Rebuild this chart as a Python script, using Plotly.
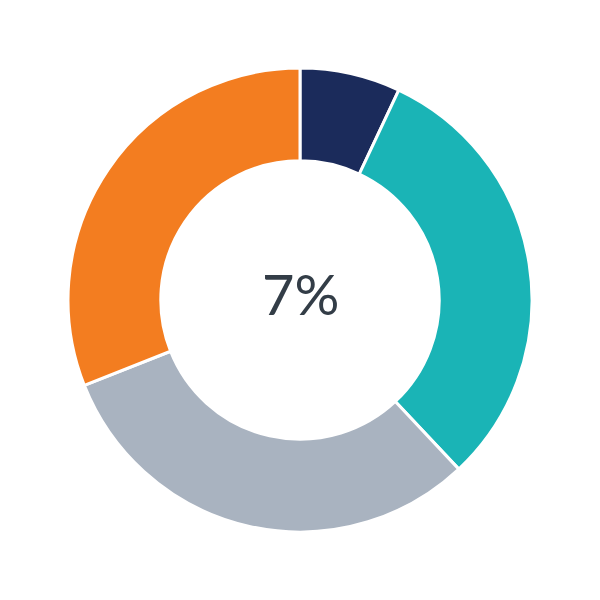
import plotly.graph_objects as go

labels = ["A", "B", "C", "D"]
values = [7, 31, 31, 31]
colors = ["#1b2b5b", "#1ab4b6", "#a9b3c0", "#f37d20"]
center_text = "7%"

fig = go.Figure()
fig.add_trace(go.Pie(
    labels=labels,
    values=values,
    hole=0.6,
    sort=False,
    direction="clockwise",
    rotation=0,
    textinfo="none",
    hoverinfo="none",
    marker=dict(colors=colors, line=dict(color="white", width=3)),
    showlegend=False,
))

# centre label
fig.add_annotation(
    text=center_text, x=0.5, y=0.5, xref="paper", yref="paper",
    showarrow=False, yshift=7,
    font=dict(family="Lato", size=56, color="#333d47"),
)

# page body has an 8px margin, so keep the figure 584 wide
fig.update_layout(
    width=584, height=584,
    margin=dict(l=60, r=60, t=60, b=60),
    paper_bgcolor="white",
    plot_bgcolor="white",
)

fig.write_html("out.html")
